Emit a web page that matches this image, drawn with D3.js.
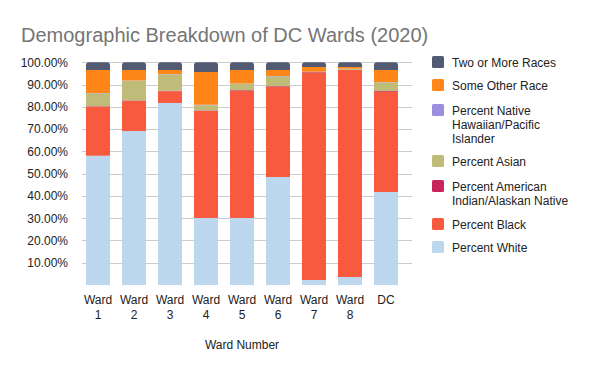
<!DOCTYPE html>
<html lang="en">
<head>
    <meta charset="UTF-8">
    <title>Demographic Breakdown of DC Wards (2020)</title>
    <style>
        body { margin: 0; background: #fff; }
        text { font-family: Arial, "Liberation Sans", sans-serif; }
        .grid line { stroke: #cccccc; stroke-width: 1; }
    </style>
    <script src="https://d3js.org/d3.v7.min.js"></script>
</head>
<body>
    <svg width="600" height="371"></svg>
    <script>
        const wards = ["Ward 1", "Ward 2", "Ward 3", "Ward 4", "Ward 5", "Ward 6", "Ward 7", "Ward 8", "DC"];
        const seriesNames = ["Percent White", "Percent Black", "Percent American Indian/Alaskan Native",
            "Percent Asian", "Percent Native Hawaiian/Pacific Islander", "Some Other Race", "Two or More Races"];
        const white = [58.0, 69.2, 81.7, 30.1, 30.1, 48.5, 2.2, 3.6, 41.8];
        const black = [22.0, 13.4, 5.3, 48.0, 57.0, 40.4, 93.0, 92.9, 45.0];
        const amInd = [0.3, 0.3, 0.2, 0.3, 0.3, 0.3, 0.3, 0.2, 0.3];
        const asian = [5.8, 8.8, 7.4, 2.3, 3.0, 4.5, 0.2, 0.3, 3.9];
        const nhpi = [0.1, 0.1, 0.1, 0.2, 0.1, 0.1, 0.1, 0.1, 0.1];
        const other = [10.3, 4.7, 1.8, 14.7, 6.0, 2.7, 2.1, 0.8, 5.4];
        const twoPlus = [3.5, 3.5, 3.5, 4.4, 3.5, 3.5, 2.1, 2.1, 3.5];
        const yTicks = [10, 20, 30, 40, 50, 60, 70, 80, 90, 100];
        const colors = ["#bdd7ee", "#f85a40", "#c9245b", "#bfbb78", "#9b8fe0", "#ff8618", "#535a73"];

        const seriesValues = [white, black, amInd, asian, nhpi, other, twoPlus];
        const rows = wards.map((w, i) => {
            const r = { ward: w };
            seriesNames.forEach((s, k) => r[s] = seriesValues[k][i]);
            return r;
        });
        const stacked = d3.stack().keys(seriesNames)(rows);

        const svg = d3.select("svg");

        const x = d3.scaleBand().domain(wards).range([80, 404]).paddingInner(0.333).paddingOuter(0.1665);
        const y = d3.scaleLinear().domain([0, 100]).range([285, 62.3]);

        svg.append("text")
            .attr("x", 21).attr("y", 42)
            .attr("font-size", 20).attr("fill", "#757575")
            .text("Demographic Breakdown of DC Wards (2020)");

        // gridlines
        svg.append("g").attr("class", "grid")
            .selectAll("line").data(yTicks).enter().append("line")
            .attr("x1", 82).attr("x2", 412)
            .attr("y1", d => Math.round(y(d)) + 0.5).attr("y2", d => Math.round(y(d)) + 0.5);

        const yAxis = svg.append("g")
            .attr("transform", "translate(70,0)")
            .call(d3.axisLeft(y).tickValues(yTicks).tickSize(0).tickPadding(2).tickFormat(d => d.toFixed(2) + "%"));
        yAxis.select(".domain").remove();
        yAxis.selectAll("text").attr("font-size", 12).attr("fill", "#222").attr("font-family", "Arial, 'Liberation Sans', sans-serif");

        const layers = svg.append("g").selectAll("g").data(stacked).enter().append("g")
            .attr("fill", (d, i) => colors[i]);

        layers.each(function (layer, li) {
            const top = li === stacked.length - 1;
            d3.select(this).selectAll("path").data(layer).enter().append("path")
                .attr("d", d => {
                    const x0 = x(d.data.ward), w = x.bandwidth();
                    const y0 = y(d[0]), y1 = y(d[1]);
                    const r = top ? Math.min(3, (y0 - y1)) : 0;
                    return `M${x0},${y0}V${y1 + r}Q${x0},${y1} ${x0 + r},${y1}H${x0 + w - r}Q${x0 + w},${y1} ${x0 + w},${y1 + r}V${y0}Z`;
                });
        });

        // x axis labels
        const xl = svg.append("g").selectAll("text").data(wards).enter().append("text")
            .attr("x", d => x(d) + x.bandwidth() / 2)
            .attr("y", 304)
            .attr("text-anchor", "middle").attr("font-size", 12).attr("fill", "#222");
        xl.each(function (d) {
            const parts = d.split(" ");
            parts.forEach((p, i) => {
                d3.select(this).append("tspan")
                    .attr("x", x(d) + x.bandwidth() / 2)
                    .attr("dy", i === 0 ? 0 : 15)
                    .text(p);
            });
        });

        svg.append("text")
            .attr("x", 242).attr("y", 349)
            .attr("text-anchor", "middle").attr("font-size", 12).attr("fill", "#222")
            .text("Ward Number");

        // legend
        const legendItems = [
            { name: "Two or More Races", lines: ["Two or More Races"], y: 62, c: 6 },
            { name: "Some Other Race", lines: ["Some Other Race"], y: 85, c: 5 },
            { name: "Percent Native Hawaiian/Pacific Islander", lines: ["Percent Native", "Hawaiian/Pacific", "Islander"], y: 110, c: 4 },
            { name: "Percent Asian", lines: ["Percent Asian"], y: 161, c: 3 },
            { name: "Percent American Indian/Alaskan Native", lines: ["Percent American", "Indian/Alaskan Native"], y: 186, c: 2 },
            { name: "Percent Black", lines: ["Percent Black"], y: 224, c: 1 },
            { name: "Percent White", lines: ["Percent White"], y: 247, c: 0 }
        ];
        const lg = svg.append("g").selectAll("g").data(legendItems).enter().append("g");
        lg.append("rect")
            .attr("x", 432).attr("y", d => d.y - 6).attr("width", 12).attr("height", 12)
            .attr("rx", 1.5).attr("fill", d => colors[d.c]);
        lg.each(function (d) {
            d.lines.forEach((l, i) => {
                d3.select(this).append("text")
                    .attr("x", 452).attr("y", d.y + 4.5 + i * 14)
                    .attr("font-size", 12).attr("fill", "#222")
                    .text(l);
            });
        });
    </script>
</body>
</html>
